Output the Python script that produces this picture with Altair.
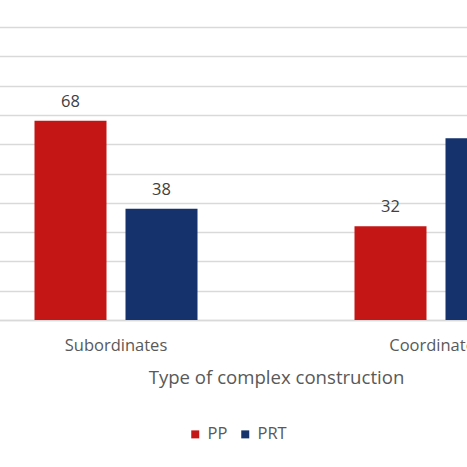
import altair as alt
import pandas as pd

categories = ["Subordinates", "Coordinates"]
series = ["PP", "PRT"]
pp_values = [68, 32]
prt_values = [38, 62]
colors = ["#C51616", "#15326C"]
y_ticks = [0, 10, 20, 30, 40, 50, 60, 70, 80, 90, 100]

rows = []
for i, c in enumerate(categories):
    rows.append({"cat": c, "series": "PP", "value": pp_values[i]})
    rows.append({"cat": c, "series": "PRT", "value": prt_values[i]})
df = pd.DataFrame(rows)

FONT = "Open Sans"

x_enc = alt.X(
    "cat:N",
    sort=categories,
    scale=alt.Scale(domain=categories, range=[-44, 596], paddingInner=0, paddingOuter=0),
    axis=alt.Axis(
        title="Type of complex construction",
        labelAngle=0,
        ticks=False,
        domain=True,
        domainColor="#d9d9d9",
        domainWidth=1.5,
        labelFont=FONT,
        labelFontSize=16.5,
        labelColor="#595959",
        labelBaseline="alphabetic",
        labelPadding=30,
        titleFont=FONT,
        titleFontSize=18.6,
        titleFontWeight="normal",
        titleColor="#595959",
        titleBaseline="alphabetic",
        titleY=63,
        grid=False,
    ),
)
xoff_enc = alt.XOffset(
    "series:N",
    sort=series,
    scale=alt.Scale(domain=series, paddingInner=0.2088, paddingOuter=0.8626),
)
y_enc = alt.Y(
    "value:Q",
    scale=alt.Scale(domain=[0, 100], nice=False),
    axis=alt.Axis(
        title=None,
        values=y_ticks,
        tickCount=11,
        labels=False,
        ticks=False,
        domain=False,
        grid=True,
        gridColor="#d9d9d9",
        gridWidth=1.5,
    ),
)

bars = alt.Chart(df).mark_bar().encode(
    x=x_enc,
    xOffset=xoff_enc,
    y=y_enc,
    color=alt.Color(
        "series:N",
        sort=series,
        scale=alt.Scale(domain=series, range=colors),
        legend=alt.Legend(
            title=None,
            orient="none",
            direction="horizontal",
            legendX=187,
            legendY=399,
            symbolType="square",
            symbolSize=64,
            symbolStrokeWidth=0,
            labelFont=FONT,
            labelFontSize=16.5,
            labelColor="#595959",
            labelOffset=4,
            columnPadding=9,
        ),
    ),
)

labels = alt.Chart(df).mark_text(
    font=FONT, fontSize=16.5, color="#404040", baseline="alphabetic", dy=-14
).encode(
    x=x_enc,
    xOffset=xoff_enc,
    y=y_enc,
    text=alt.Text("value:Q"),
)

chart = (
    alt.layer(bars, labels)
    .properties(
        width=467,
        height=293,
        padding={"top": 27, "left": 0, "right": 0, "bottom": 147},
        autosize=alt.AutoSizeParams(type="none"),
        background="white",
    )
    .configure_view(stroke=None)
)

chart.save("out.html", embed_options={"renderer": "svg", "actions": False})
